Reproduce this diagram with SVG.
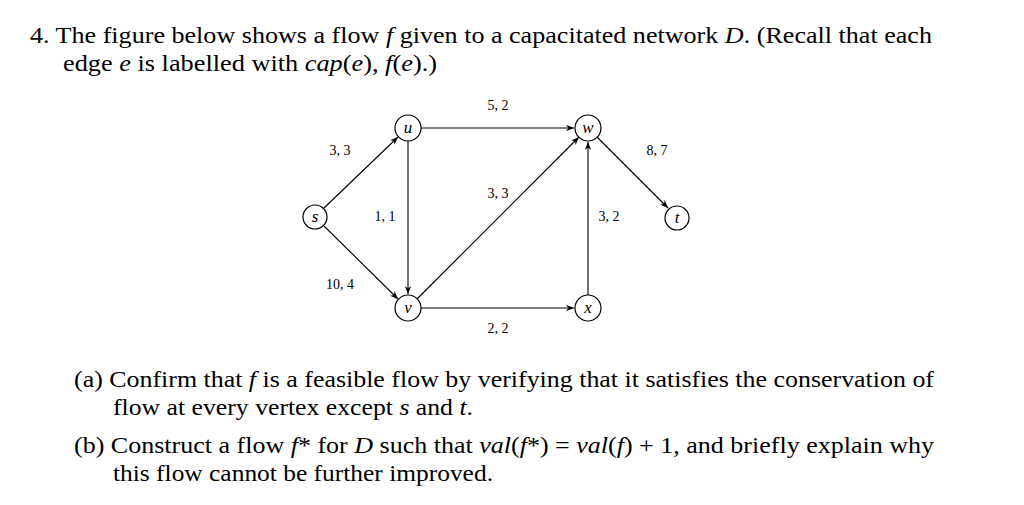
<svg xmlns="http://www.w3.org/2000/svg" width="1024" height="505" viewBox="0 0 1024 505">
<style>
text{font-family:"Liberation Serif","DejaVu Serif",serif;fill:#000}
.t{font-size:23px}
.l{font-size:14px}
.n{font-size:17px;font-style:italic}
circle{fill:#fff;stroke:#000;stroke-width:1.2}
line{stroke:#000;stroke-width:1.1;marker-end:url(#a)}
</style>
<defs><marker id="a" viewBox="0 0 10 10" refX="10" refY="5" markerWidth="8" markerHeight="8" markerUnits="userSpaceOnUse" orient="auto"><path d="M0,1 L10,5 L0,9 L3,5z" fill="#000"/></marker></defs>
<rect width="1024" height="505" fill="#fff"/>
<text class="t" x="30" y="43" textLength="902" lengthAdjust="spacingAndGlyphs">4. The figure below shows a flow <tspan font-style="italic">f</tspan> given to a capacitated network <tspan font-style="italic">D</tspan>. (Recall that each</text>
<text class="t" x="63" y="71" textLength="374" lengthAdjust="spacingAndGlyphs">edge <tspan font-style="italic">e</tspan> is labelled with <tspan font-style="italic">cap</tspan>(<tspan font-style="italic">e</tspan>), <tspan font-style="italic">f</tspan>(<tspan font-style="italic">e</tspan>).)</text>
<g id="edges">
<line x1="324" y1="208" x2="398" y2="137"/>
<line x1="324" y1="226" x2="398" y2="299"/>
<line x1="421" y1="128" x2="574" y2="128"/>
<line x1="408" y1="141" x2="408" y2="294"/>
<line x1="417" y1="299" x2="579" y2="137"/>
<line x1="421" y1="308" x2="574" y2="308"/>
<line x1="588" y1="295" x2="588" y2="142"/>
<line x1="597" y1="137" x2="668" y2="208"/>
</g>
<g id="labels">
<text class="l" x="340" y="155" text-anchor="middle">3, 3</text>
<text class="l" x="340" y="289" text-anchor="middle">10, 4</text>
<text class="l" x="385" y="221" text-anchor="middle">1, 1</text>
<text class="l" x="498" y="110" text-anchor="middle">5, 2</text>
<text class="l" x="498" y="198" text-anchor="middle">3, 3</text>
<text class="l" x="498" y="333" text-anchor="middle">2, 2</text>
<text class="l" x="609" y="221" text-anchor="middle">3, 2</text>
<text class="l" x="657" y="155" text-anchor="middle">8, 7</text>
</g>
<g id="s"><circle cx="315" cy="217" r="12"/><text class="n" x="315" y="222" text-anchor="middle">s</text></g>
<g id="u"><circle cx="408" cy="128" r="13"/><text class="n" x="408" y="133" text-anchor="middle">u</text></g>
<g id="w"><circle cx="588" cy="128" r="13"/><text class="n" x="588" y="133" text-anchor="middle">w</text></g>
<g id="t"><circle cx="677" cy="218" r="12"/><text class="n" x="677" y="223" text-anchor="middle">t</text></g>
<g id="v"><circle cx="408" cy="308" r="13"/><text class="n" x="408" y="313" text-anchor="middle">v</text></g>
<g id="x"><circle cx="588" cy="308" r="13"/><text class="n" x="588" y="313" text-anchor="middle">x</text></g>
<text class="t" x="74" y="387" textLength="860" lengthAdjust="spacingAndGlyphs">(a) Confirm that <tspan font-style="italic">f</tspan> is a feasible flow by verifying that it satisfies the conservation of</text>
<text class="t" x="113" y="415" textLength="360" lengthAdjust="spacingAndGlyphs">flow at every vertex except <tspan font-style="italic">s</tspan> and <tspan font-style="italic">t</tspan>.</text>
<text class="t" x="74" y="453" textLength="860" lengthAdjust="spacingAndGlyphs">(b) Construct a flow <tspan font-style="italic">f</tspan>* for <tspan font-style="italic">D</tspan> such that <tspan font-style="italic">val</tspan>(<tspan font-style="italic">f</tspan>*) = <tspan font-style="italic">val</tspan>(<tspan font-style="italic">f</tspan>) + 1, and briefly explain why</text>
<text class="t" x="113" y="481" textLength="380" lengthAdjust="spacingAndGlyphs">this flow cannot be further improved.</text>
</svg>
